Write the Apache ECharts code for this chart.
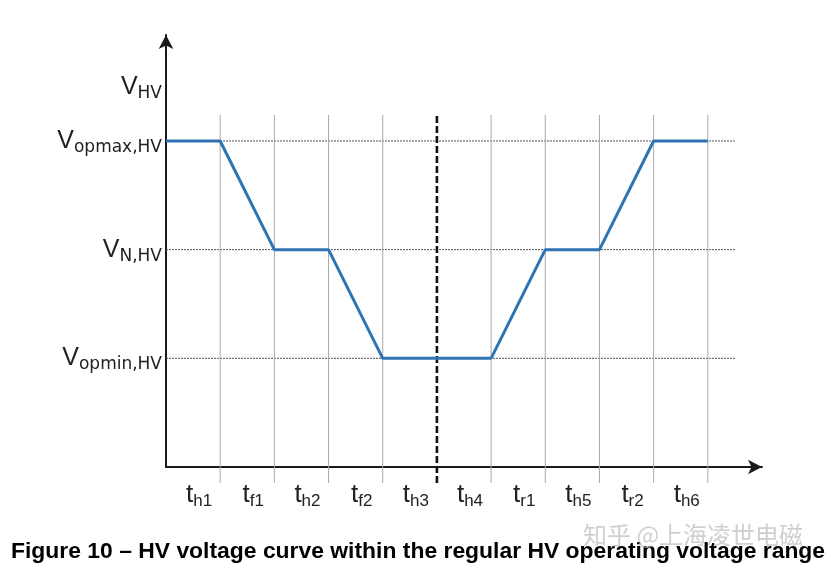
<!DOCTYPE html>
<html>
<head>
<meta charset="utf-8">
<script src="https://cdn.jsdelivr.net/npm/echarts@6/dist/echarts.min.js"></script>
<style>html,body{margin:0;padding:0;background:#fff}#c{width:831px;height:570px}</style>
</head>
<body>
<div id="c"></div>
<script>
// ---- data ----
var timePoints = [0, 1, 2, 3, 4, 5, 6, 7, 8, 9, 10];
var voltage    = [3, 3, 2, 2, 1, 1, 1, 2, 2, 3, 3];
var intervalSubs = ['h1', 'f1', 'h2', 'f2', 'h3', 'h4', 'r1', 'h5', 'r2', 'h6'];
var levelValues = [1, 2, 3];
var levelSubs   = ['opmin,HV', 'N,HV', 'opmax,HV'];
var axisNameValue = 3.5;
var axisNameSub = 'HV';
var dividerIndex = 5; // dashed divider between t_h3 and t_h4
var titleText = 'Figure 10 \u2013 HV voltage curve within the regular HV operating voltage range';
var watermark = '知乎 @上海凌世电磁';

var FONT = '"Liberation Sans", Arial, sans-serif';
var SUBFONT = '"DejaVu Sans", sans-serif';
var blue = '#2e74b5';

var series = [];
// horizontal dotted reference lines
levelValues.forEach(function (v) {
  series.push({
    type: 'line', silent: true, symbol: 'none', clip: false, z: 1,
    data: [[0, v], [10.5, v]],
    lineStyle: { color: '#555', width: 1, type: [2, 1] }
  });
});
// vertical gridlines
for (var i = 1; i < timePoints.length; i++) {
  var isDiv = (timePoints[i] === dividerIndex);
  series.push({
    type: 'line', silent: true, symbol: 'none', clip: false, z: isDiv ? 3 : 1,
    data: [[timePoints[i], -0.147], [timePoints[i], 3.24]],
    lineStyle: isDiv ? { color: '#111', width: 2.6, type: [7, 3] } : { color: '#aaa', width: 1 }
  });
}
// main curve
series.push({
  type: 'line', symbol: 'none', z: 5, clip: false,
  data: timePoints.map(function (t, k) { return [t, voltage[k]]; }),
  lineStyle: { color: blue, width: 3 }
});

var yLab = {};
levelValues.forEach(function (v, k) { yLab[v] = levelSubs[k]; });
yLab[axisNameValue] = axisNameSub;

var chart = echarts.init(document.getElementById('c'), null, { renderer: 'canvas' });
chart.setOption({
  animation: false,
  backgroundColor: '#fff',
  grid: { left: 166, right: 69, top: 35, bottom: 103 },
  title: {
    text: titleText, left: 6, top: 535,
    textStyle: { fontFamily: FONT, fontWeight: 'bold', fontSize: 22.9, color: '#000' }
  },
  graphic: [{
    type: 'text', left: 583, top: 523, z: 100,
    style: { text: watermark, fontSize: 24, fontFamily: '"Noto Sans CJK SC", sans-serif', fill: 'rgba(175,175,175,0.6)' }
  }],
  xAxis: {
    type: 'value', min: 0, max: 11, interval: 0.5,
    splitLine: { show: false }, axisTick: { show: false },
    axisLine: { lineStyle: { color: '#1a1a1a', width: 2 }, symbol: ['none', 'arrow'], symbolSize: [11, 14] },
    axisLabel: {
      margin: 13, showMaxLabel: false, padding: [0, 0, 0, 12],
      formatter: function (v) {
        var k = Math.round(v * 2);
        if (k % 2 === 1) { var idx = (k - 1) / 2; if (idx < intervalSubs.length) return '{t|t}{s|' + intervalSubs[idx] + '}'; }
        return '';
      },
      rich: {
        t: { fontFamily: FONT, fontSize: 26, lineHeight: 30, color: '#222' },
        s: { fontFamily: FONT, fontSize: 17, lineHeight: 17, verticalAlign: 'bottom', color: '#222' }
      }
    }
  },
  yAxis: {
    type: 'value', min: 0, max: 3.975, interval: 0.5,
    splitLine: { show: false }, axisTick: { show: false },
    axisLine: { lineStyle: { color: '#1a1a1a', width: 2 }, symbol: ['none', 'arrow'], symbolSize: [11, 14] },
    axisLabel: {
      margin: 4, showMaxLabel: false,
      formatter: function (v) {
        var key = Math.round(v * 2) / 2;
        if (yLab[key] !== undefined) return '{v|V}{s|' + yLab[key] + '}';
        return '';
      },
      rich: {
        v: { fontFamily: FONT, fontSize: 25, lineHeight: 30, color: '#222' },
        s: { fontFamily: SUBFONT, fontSize: 17, lineHeight: 17, verticalAlign: 'bottom', color: '#222' }
      }
    }
  },
  series: series
});
</script>
</body>
</html>
